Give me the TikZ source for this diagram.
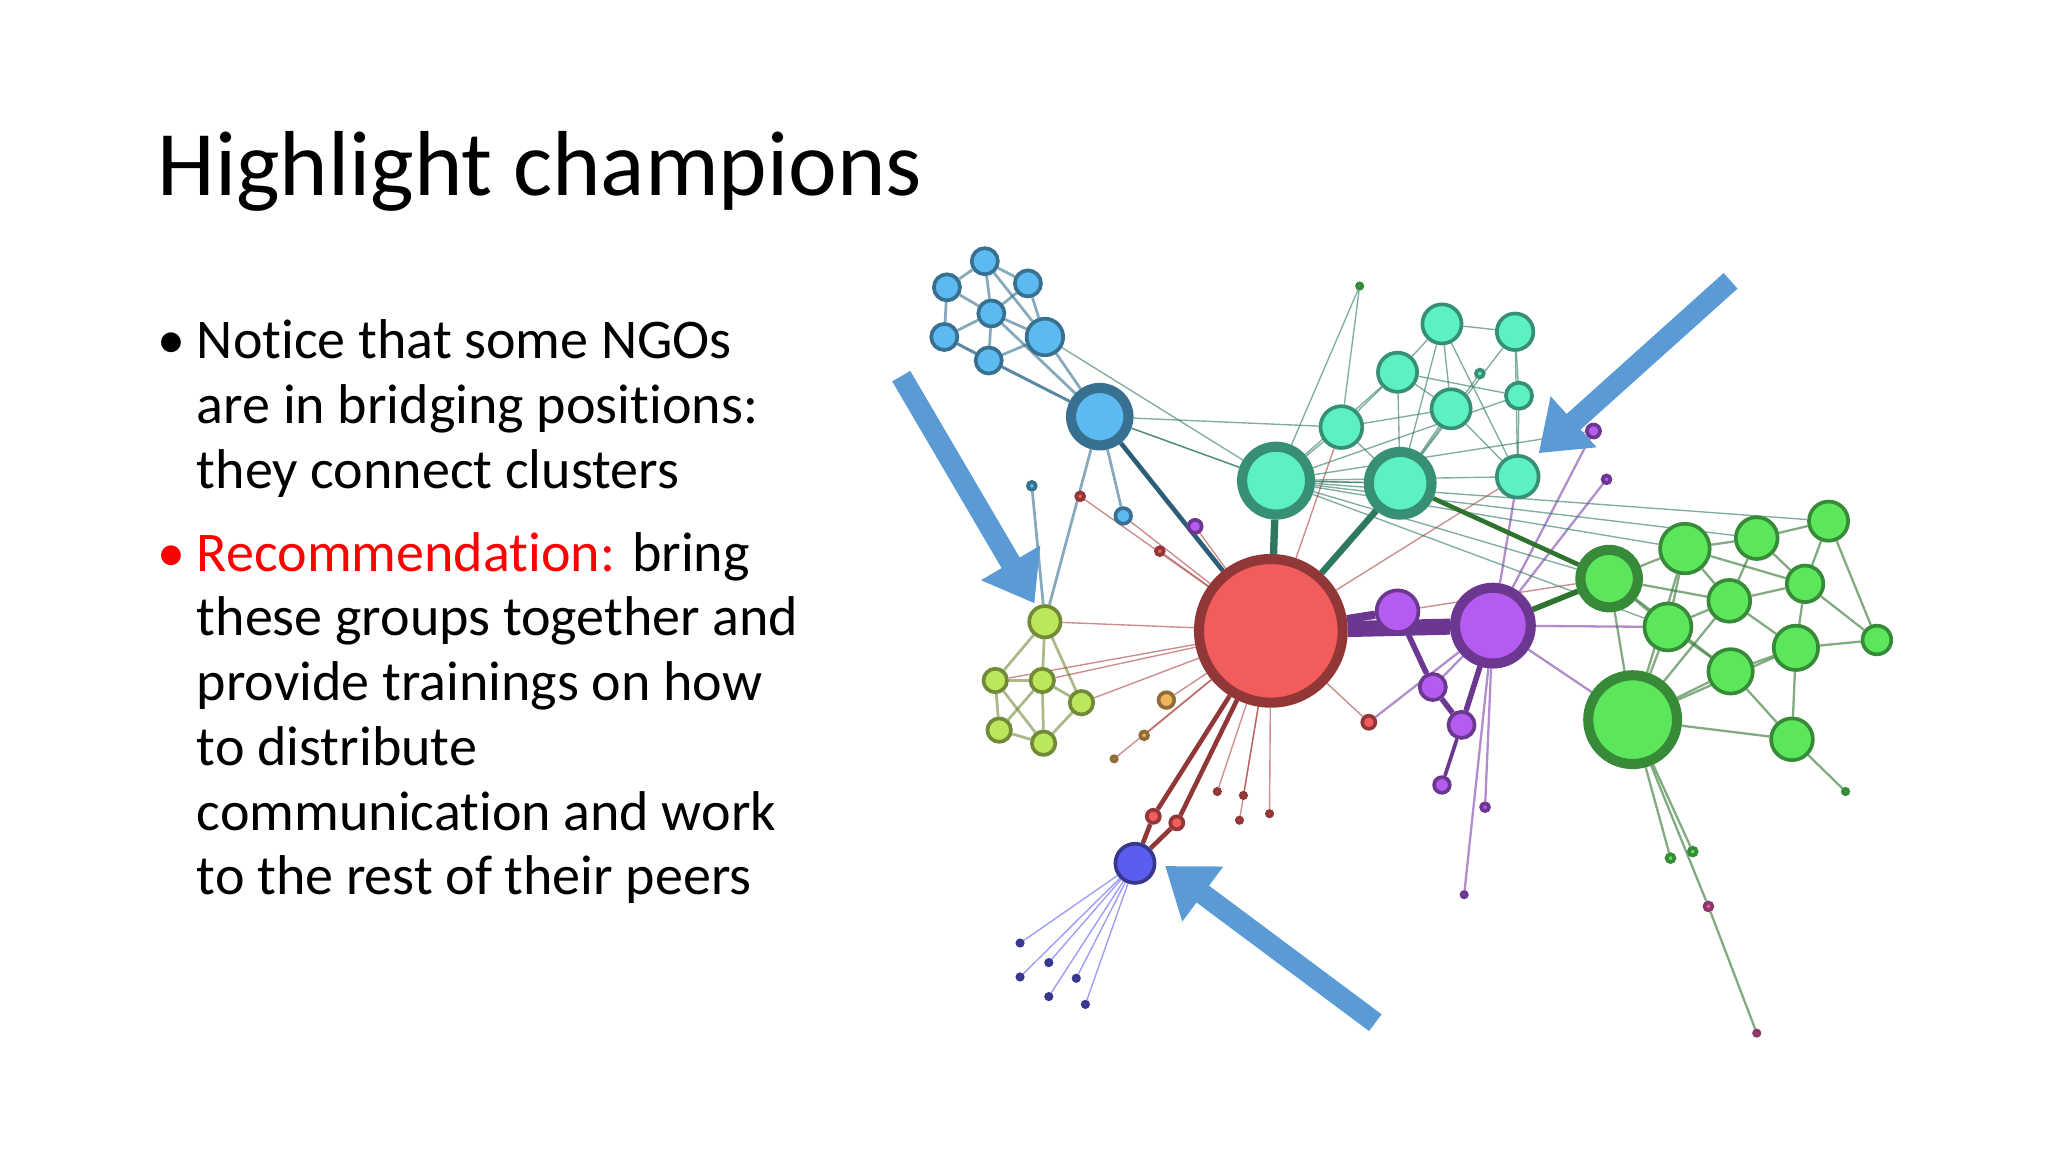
\documentclass[tikz,border=0pt]{standalone}
\usepackage{fontspec}
\setmainfont{Carlito}[Ligatures={NoCommon}]
\usetikzlibrary{backgrounds,arrows.meta}
\definecolor{cred}{HTML}{F25C5C}
\definecolor{cpur}{HTML}{B45CF0}
\definecolor{cteal}{HTML}{5CF0C4}
\definecolor{cblue}{HTML}{5CBAF0}
\definecolor{cgreen}{HTML}{5CE65C}
\definecolor{cyg}{HTML}{BCE65C}
\definecolor{cvio}{HTML}{5C5CF0}
\definecolor{corg}{HTML}{F0B45C}
\definecolor{cpink}{HTML}{E65CB0}
\definecolor{carrow}{HTML}{5B9BD5}
\tikzset{
  nd/.style={circle,inner sep=0pt,line width=0.9pt},
  ed/.style={line width=0.3pt,opacity=0.6},
  big/.style={-{Triangle[length=3.6mm,width=5mm]},line width=1.6mm,carrow},
}
\begin{document}
\begin{tikzpicture}[x=0.01cm,y=-0.01cm]
          \useasboundingbox (0,0) rectangle (1568,882);
          \node[anchor=base west,inner sep=0pt,font=\fontsize{20.1}{24}\selectfont] (title) at (120,150) {Highlight champions};
          \node[anchor=north west,inner sep=0pt,font=\fontsize{12.2}{14.1}\selectfont] (body) at (120,244)
            {\begin{minipage}{5.0cm}\raggedright\setlength{\parskip}{4pt}\hyphenpenalty=10000
             \hangindent=0.3cm\makebox[0.3cm][l]{•}Notice that some NGOs are in bridging positions: they connect clusters\par
             \hangindent=0.3cm\makebox[0.3cm][l]{\color{red}•}{\color{red}Recommendation:} bring these groups together and provide trainings on how to distribute communication and work to the rest of their peers\end{minipage}};
          % nodes: name/x/y/radius/colour
          \foreach \n/\x/\y/\r/\c in {
              r/973/483/55/cred, p1/1070/468/16/cpur, p2/1143/479/29/cpur,
              p3/1097/526/10/cpur, p4/1119/555/10/cpur, p5/1104/601/6/cpur, p6/1137/618/3/cpur,
              p7/1220/330/5/cpur, p8/1230/367/3/cpur, p9/915/403/5/cpur, p10/1121/685/2/cpur,
              t1/977/368/26/cteal, t2/1072/370/24/cteal, t3/1027/327/16/cteal, t4/1070/285/15/cteal,
              t5/1104/248/15/cteal, t6/1160/254/14/cteal, t7/1111/313/15/cteal, t8/1163/303/10/cteal,
              t9/1162/365/16/cteal, t10/1133/286/3/cteal, t11/1041/219/2/cgreen,
              b0/842/319/22/cblue, b1/754/200/10/cblue, b2/787/217/10/cblue, b3/725/220/10/cblue,
              b4/759/240/10/cblue, b5/800/258/14/cblue, b6/723/258/10/cblue, b7/757/276/10/cblue,
              b8/860/395/6/cblue, b9/790/372/3/cblue,
              g1/1250/551/34/cgreen, g2/1232/443/22/cgreen, g3/1290/420/19/cgreen, g4/1345/412/16/cgreen,
              g5/1400/399/15/cgreen, g6/1382/447/14/cgreen, g7/1324/460/16/cgreen, g8/1277/480/18/cgreen,
              g9/1375/496/17/cgreen, g10/1325/514/17/cgreen, g11/1372/566/16/cgreen, g12/1437/490/11/cgreen,
              g13/1279/657/3/cgreen, g14/1296/652/3/cgreen, g15/1413/606/2/cgreen,
              k1/1308/694/3/cpink, k2/1345/791/2/cpink,
              y1/800/476/12/cyg, y2/762/521/9/cyg, y3/798/521/9/cyg, y4/828/538/9/cyg,
              y5/765/559/9/cyg, y6/799/569/9/cyg,
              v/869/661/15/cvio, v1/781/722/2/cvio, v2/803/737/2/cvio, v3/824/749/2/cvio,
              v4/781/748/2/cvio, v5/803/763/2/cvio, v6/831/769/2/cvio,
              e1/1048/553/5/cred, e2/883/625/5/cred, e3/901/630/5/cred, e4/888/422/3/cred,
              e5/827/380/3/cred, e6/932/606/2/cred, e7/952/609/2/cred, e8/949/628/2/cred, e9/972/623/2/cred,
              o1/893/536/6/corg, o2/876/563/3/corg, o3/853/581/2/corg}
            \node[nd,fill=\c,draw=\c!60!black,minimum size=2*\r*0.01cm,
                  line width={\r>20 ? 2.2pt : 0.8pt}] (\n) at (\x,\y) {};
          \begin{pgfonlayer}{background}
            \foreach \a/\b in {b1/b2,b1/b3,b1/b4,b2/b4,b3/b4,b4/b5,b3/b6,b6/b7,b4/b7,b5/b7,b4/b6,b2/b5,b1/b5,
                b5/b0,b7/b0,b6/b0,b4/b0,b0/b8,b0/y1,b9/y1}
              \draw[ed,cblue!60!black,line width=0.6pt] (\a) -- (\b);
            \foreach \a/\b in {t1/t2,t1/t3,t2/t3,t3/t4,t4/t5,t5/t6,t4/t7,t7/t2,t7/t9,t8/t9,t6/t8,t5/t7,
                t2/t4,t2/t5,t2/t6,t1/t4,t3/t7,t6/t9,t10/t2,t4/t8,t5/t9,b0/t3,b0/t1,t11/t1,t11/t3}
              \draw[ed,cteal!50!black] (\a) -- (\b);
            \foreach \a/\b in {g1/g2,g1/g3,g1/g7,g1/g8,g1/g10,g1/g11,g1/g9,g2/g3,g2/g8,g2/g7,g3/g4,g3/g7,g4/g5,
                g4/g7,g5/g6,g6/g7,g7/g8,g7/g9,g8/g10,g9/g10,g9/g12,g10/g11,g6/g9,g3/g8,g2/g10,g9/g11,
                g1/g13,g1/g14,g11/g15,g1/k1,k1/k2,g3/g6,g6/g12,g4/g6,g5/g12}
              \draw[ed,cgreen!50!black,line width=0.5pt] (\a) -- (\b);
            \foreach \a/\b in {y1/y2,y1/y3,y2/y3,y3/y4,y2/y5,y5/y6,y3/y6,y4/y6,y3/y5,y1/y4,y2/y6}
              \draw[ed,cyg!60!black,line width=0.6pt] (\a) -- (\b);
            \foreach \a in {v1,v2,v3,v4,v5,v6}
              \draw[ed,cvio] (v) -- (\a);
            \foreach \a in {e6,e7,e8,e9,e1,e4,e5,o1,o2,o3,y1,y2,y3,y4,p9,b8,t3,t9,g2}
              \draw[ed,cred!70!black] (r) -- (\a);
            \foreach \a in {p3,p4,p5,p6,p7,p8,p10,t9,g2,g8,g1,e1}
              \draw[ed,cpur!70!black,line width=0.5pt] (p2) -- (\a);
            \foreach \a in {t2,t9,g2,g3,g5,g8,p7,b0,b5,t8,g4}
              \draw[ed,cteal!50!black] (t1) -- (\a);
            \draw[cteal!50!black,line width=1.6pt] (r) -- (t1);
            \draw[cteal!50!black,line width=1.4pt] (r) -- (t2);
            \draw[cblue!50!black,line width=1pt] (r) -- (b0);
            \draw[cred!60!black,line width=1pt] (r) -- (e2) -- (v);
            \draw[cred!60!black,line width=1pt] (r) -- (e3) -- (v);
            \draw[cpur!60!black,line width=3.5pt] (r) -- (p2);
            \draw[cpur!60!black,line width=1.8pt] (r) -- (p1);
            \draw[cpur!60!black,line width=1.2pt] (p1) -- (p3) -- (p4) -- (p2);
            \draw[cpur!60!black,line width=0.8pt] (p4) -- (p5);
            \draw[cgreen!50!black,line width=1.2pt] (p2) -- (g2);
            \draw[cgreen!50!black,line width=1pt] (t2) -- (g2);
          \end{pgfonlayer}
          % pointers
          \coordinate (a1s) at (690,288);
          \coordinate (a1e) at (792,462);
          \coordinate (a2s) at (1325,215);
          \coordinate (a2e) at (1178,347);
          \coordinate (a3s) at (1053,783);
          \coordinate (a3e) at (892,663);
          \draw[big] (a1s) -- (a1e);
          \draw[big] (a2s) -- (a2e);
          \draw[big] (a3s) -- (a3e);
\end{tikzpicture}
\end{document}
